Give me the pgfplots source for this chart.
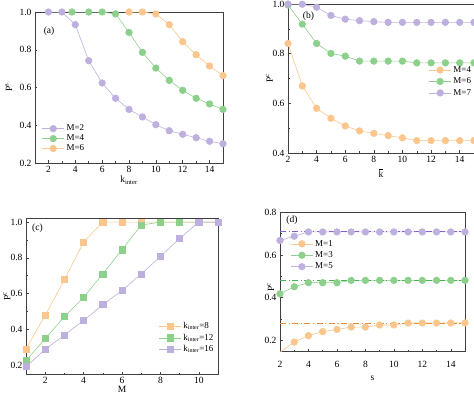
\documentclass[border=0pt]{standalone}
\usepackage{fontspec}
\setmainfont{Liberation Serif}
\usepackage{pgfplots}
\pgfplotsset{compat=1.18}
\definecolor{cO}{RGB}{251,198,142}
\definecolor{cG}{RGB}{140,208,140}
\definecolor{cP}{RGB}{190,176,222}
\definecolor{dO}{RGB}{240,140,50}
\definecolor{dG}{RGB}{70,180,80}
\definecolor{dP}{RGB}{130,100,200}
\pgfplotsset{
  panel/.style={
    scale only axis,
    axis line style={draw=black!75, line width=0.7pt},
    tick style={black!75, line width=0.5pt},
    major tick length=2.5pt, minor tick length=1.5pt,
    tick align=inside,
    xtick pos=bottom, ytick pos=left,
    font=\fontsize{9.5}{10.5}\selectfont,
    tick label style={font=\fontsize{9.5}{10.5}\selectfont},
    /pgf/number format/assume math mode=true,
    yticklabel style={/pgf/number format/.cd, fixed, fixed zerofill, precision=1},
    minor x tick num=1, minor y tick num=1,
    legend style={draw=none, fill=none, font=\fontsize{9}{10}\selectfont, row sep=-1.5pt},
    legend cell align=left,
    legend image code/.code={\draw[mark repeat=2, mark phase=2] plot coordinates {(0pt,0pt) (11pt,0pt) (22pt,0pt)};},
  },
  sO/.style={color=cO, line width=0.6pt, mark=*, mark size=3.3pt, mark options={fill=cO, draw=cO}},
  sG/.style={color=cG, line width=0.6pt, mark=*, mark size=3.3pt, mark options={fill=cG, draw=cG}},
  sP/.style={color=cP, line width=0.6pt, mark=*, mark size=3.3pt, mark options={fill=cP, draw=cP}},
  qO/.style={color=cO, line width=0.6pt, mark=square*, mark size=3.1pt, mark options={fill=cO, draw=cO}},
  qG/.style={color=cG, line width=0.6pt, mark=square*, mark size=3.1pt, mark options={fill=cG, draw=cG}},
  qP/.style={color=cP, line width=0.6pt, mark=square*, mark size=3.1pt, mark options={fill=cP, draw=cP}},
  dd/.style={line width=1pt, dash pattern=on 6pt off 2.5pt on 1.2pt off 2.5pt, forget plot},
}
\begin{document}
\begin{tikzpicture}
\path[use as bounding box] (0pt,0pt) rectangle (474pt,394pt);
% (a)
\begin{axis}[panel, at={(35pt,231pt)}, anchor=south west, width=188pt, height=151pt,
  xmin=1, xmax=15, ymin=0.2, ymax=1.0,
  xtick={2,4,...,14}, ytick={0.2,0.4,...,1.0},
  xlabel={k\textsubscript{inter}}, ylabel={P\textsuperscript{s}},
  xlabel style={at={(axis description cs:0.5,-0.115)}, anchor=center},
  ylabel style={at={(axis description cs:-0.14,0.5)}, anchor=center},
  legend style={at={(axis description cs:0.02,0.28)}, anchor=north west}]
\addplot[sP] coordinates {(2,1.0)(3,1.0)(4,0.933)(5,0.742)(6,0.624)(7,0.543)(8,0.484)(9,0.444)(10,0.403)(11,0.371)(12,0.352)(13,0.334)(14,0.315)(15,0.302)};
\addplot[sG] coordinates {(3.75,1.0)(5,1.0)(6,1.0)(7,0.99)(8,0.892)(9,0.786)(10,0.703)(11,0.638)(12,0.585)(13,0.543)(14,0.513)(15,0.484)};
\addplot[sO] coordinates {(8,1.0)(9,1.0)(10,0.99)(11,0.933)(12,0.843)(13,0.774)(14,0.714)(15,0.663)};
\legend{M=2,M=4,M=6}
\node at (rel axis cs:0.075,0.87) {(a)};
\end{axis}
% (b)
\begin{axis}[panel, at={(288pt,241pt)}, anchor=south west, width=186pt, height=149pt,
  xmin=2, xmax=15, ymin=0.4, ymax=1.0,
  xtick={2,4,...,14}, ytick={0.4,0.6,0.8,1.0},
  xlabel={$\overline{\mbox{k}}$}, ylabel={P\textsuperscript{c}},
  xlabel style={at={(axis description cs:0.5,-0.134)}, anchor=center},
  ylabel style={at={(axis description cs:-0.10,0.5)}, anchor=center},
  legend style={at={(axis description cs:0.74,0.61)}, anchor=north west, row sep=0pt}]
\addplot[sO] coordinates {(2,0.841)(3,0.670)(4,0.580)(5,0.540)(6,0.509)(7,0.489)(8,0.479)(9,0.470)(10,0.461)(11,0.450)(12,0.450)(13,0.450)(14,0.450)(15,0.450)};
\addplot[sG] coordinates {(2,0.996)(3,0.919)(4,0.841)(5,0.801)(6,0.790)(7,0.770)(8,0.770)(9,0.770)(10,0.770)(11,0.763)(12,0.763)(13,0.763)(14,0.763)(15,0.763)};
\addplot[sP] coordinates {(2,1.0)(3,0.999)(4,0.987)(5,0.954)(6,0.939)(7,0.933)(8,0.929)(9,0.926)(10,0.926)(11,0.926)(12,0.926)(13,0.926)(14,0.926)(15,0.926)};
\legend{M=4,M=6,M=7}
\node at (rel axis cs:0.11,0.92) {(b)};
\end{axis}
% (c)
\begin{axis}[panel, at={(26pt,20pt)}, anchor=south west, width=192pt, height=155.5pt,
  xmin=1, xmax=11, ymin=0.15, ymax=1.02,
  xtick={2,4,...,10}, ytick={0.2,0.4,...,1.0},
  xlabel={M}, ylabel={P\textsuperscript{c}},
  xlabel style={at={(axis description cs:0.5,-0.10)}, anchor=center},
  ylabel style={at={(axis description cs:-0.10,0.5)}, anchor=center},
  legend style={at={(axis description cs:0.675,0.36)}, anchor=north west, row sep=0pt}]
\addplot[qO] coordinates {(1,0.29)(2,0.478)(3,0.678)(4,0.888)(5,1.0)(6,1.0)(7,1.0)(8,1.0)(9,1.0)(10,1.0)(11,1.0)};
\addplot[qG] coordinates {(1,0.224)(2,0.348)(3,0.471)(4,0.579)(5,0.710)(6,0.845)(7,0.983)(8,1.0)(9,1.0)(10,1.0)(11,1.0)};
\addplot[qP] coordinates {(1,0.191)(2,0.288)(3,0.368)(4,0.449)(5,0.538)(6,0.617)(7,0.710)(8,0.807)(9,0.908)(10,1.0)(11,1.0)};
\legend{k\textsubscript{inter}=8,k\textsubscript{inter}=12,k\textsubscript{inter}=16}
\node at (rel axis cs:0.06,0.935) {(c)};
\end{axis}
% (d)
\begin{axis}[panel, at={(280pt,43pt)}, anchor=south west, width=185pt, height=138.7pt,
  xmin=2, xmax=15, ymin=0.15, ymax=0.8,
  xtick={2,4,...,14}, ytick={0.2,0.4,...,0.8},
  xticklabel style={yshift=-7pt},
  xlabel={s}, ylabel={P\textsuperscript{c}},
  xlabel style={at={(axis description cs:0.5,-0.2)}, anchor=center},
  ylabel style={at={(axis description cs:-0.05,0.46)}, anchor=center},
  legend style={at={(axis description cs:0.04,0.83)}, anchor=north west, row sep=0pt}]
\addplot[sO] coordinates {(2,0.144)(3,0.192)(4,0.222)(5,0.241)(6,0.251)(7,0.262)(8,0.262)(9,0.272)(10,0.272)(11,0.281)(12,0.281)(13,0.281)(14,0.281)(15,0.281)};
\addplot[sG] coordinates {(2,0.418)(3,0.451)(4,0.470)(5,0.470)(6,0.470)(7,0.481)(8,0.481)(9,0.481)(10,0.481)(11,0.481)(12,0.481)(13,0.481)(14,0.481)(15,0.481)};
\addplot[sP] coordinates {(2,0.668)(3,0.688)(4,0.708)(5,0.708)(6,0.708)(7,0.708)(8,0.708)(9,0.708)(10,0.708)(11,0.708)(12,0.708)(13,0.708)(14,0.708)(15,0.708)};
\addplot[dO, dd] coordinates {(2,0.278)(15,0.278)};
\addplot[dG, dd] coordinates {(2,0.480)(15,0.480)};
\addplot[dP, dd] coordinates {(2,0.708)(15,0.708)};
\legend{M=1,M=3,M=5}
\node at (rel axis cs:0.065,0.94) {(d)};
\end{axis}
\end{tikzpicture}
\end{document}
